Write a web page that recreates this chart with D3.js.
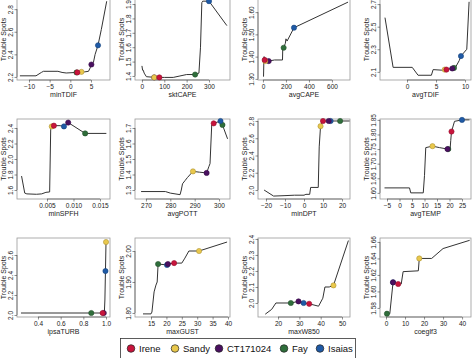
<!DOCTYPE html>
<html><head><meta charset="utf-8">
<script src="https://cdn.jsdelivr.net/npm/d3@7"></script>
<style>body{margin:0;background:#fff}svg{display:block;font-family:"Liberation Sans",Arial,Helvetica,sans-serif}</style>
</head><body><svg id="c" width="474" height="358"></svg>
<script>
// ---------------- data ----------------
const storms = ["Irene", "Sandy", "CT171024", "Fay", "Isaias"];
const stormColors = ["#c8143c", "#e9c84c", "#4a1060", "#2f6e3b", "#1f5aa6"];
const xNames = ["minTDIF", "sktCAPE", "avgCAPE", "avgTDIF",
                "minSPFH", "avgPOTT", "minDPT", "avgTEMP",
                "ipsaTURB", "maxGUST", "maxW850", "coeglf3"];
const yTitle = "Trouble Spots";
const xTicks = [[-10,-5,0,5],[0,100,200,300],[0,200,400,600],[0,5,10],
                [0.005,0.010,0.015],[270,280,290,300],[-20,-10,0,10,20],[-5,0,5,10,15,20,25],
                [0.4,0.6,0.8,1.0],[15,20,25,30,35,40],[20,30,40,50],[0,10,20,30,40]];
const xTickFmt = [".0f",".0f",".0f",".0f",".3f",".0f",".0f",".0f",".1f",".0f",".0f",".0f"];
const yTicks = [[2.2,2.4,2.6,2.8],[1.4,1.5,1.6,1.7,1.8,1.9],[1.3,1.4,1.5,1.6],[2.1,2.3,2.5,2.7],
                [1.6,1.8,2.0,2.2,2.4],[1.3,1.4,1.5,1.6,1.7],[2.0,2.2,2.4,2.6,2.8],[1.60,1.65,1.70,1.75,1.80,1.85],
                [2.0,2.2,2.4,2.6],[1.8,1.9,2.0],[2.0,2.1,2.2,2.3,2.4],[1.58,1.60,1.62,1.64,1.66]];
const yTickFmt = [".1f",".1f",".2f",".1f",".1f",".1f",".1f",".2f",".1f",".2f",".1f",".2f"];
const xLims = [[-12.9,9.6],[-31,394],[-43,757],[-4.66,11.03],
               [-0.00066,0.01689],[265.5,304.5],[-24.2,24.2],[-7.8,28.6],
               [0.215,1.035],[9.8,40.65],[10.6,53.75],[-3.16,44.7]];
const yLims = [[2.173,2.89],[1.372,1.935],[1.295,1.659],[2.028,2.745],
               [1.484,2.516],[1.242,1.758],[1.896,2.823],[1.579,1.853],
               [1.98,2.77],[1.787,2.042],[1.9125,2.406],[1.569,1.6648]];
const curveX = [
  [-12.2,-8.3,-7.0,-6.5,-3.0,-2.0,-1.0,1.5,3.5,4.4,4.8,5.1,5.6,6.0,6.7,7.5,8.8],
  [0,3,6,10,20,60,100,140,170,200,240,255,262,268,272,300,380],
  [5,8,10,15,20,50,100,170,172,180,195,200,210,260,270,740],
  [-3.8,-2.4,0.9,1.9,4.2,4.5,6.0,7.0,7.5,8.3,9.0,9.3,10.3,10.7],
  [0.0002,0.0008,0.0012,0.003,0.004,0.0048,0.0055,0.0057,0.0059,0.0063,0.0075,0.0082,0.009,0.0122,0.0162],
  [268,278,280,284,284.5,285,286,287,289.3,292,294.9,295.8,296.3,297,297.8,300.6,301.4,303.5],
  [-21,-16,-10,-5,0,1,3,3.5,7.5,8,8.7,9,10,14,19,24],
  [-6,4,4.5,9.5,10,10.5,13.2,16,19.2,20.2,20.5,20.8,22,25,28],
  [0.25,0.87,0.97,0.985,0.99,0.995,1.0],
  [12.4,15.0,15.3,16.0,16.6,17.0,17.3,20.2,20.5,22.5,25,26,27.3,30.6,39.7],
  [14,17,19,26,29.6,32,34.6,39,41,42,44,46,53],
  [0.5,2,3.7,6.4,8,9,17,17.5,24,30,44]
];
const curveY = [
  [2.21,2.21,2.24,2.25,2.25,2.24,2.235,2.24,2.245,2.25,2.28,2.31,2.33,2.40,2.48,2.62,2.87],
  [1.47,1.44,1.44,1.42,1.395,1.39,1.39,1.39,1.40,1.41,1.41,1.42,1.60,1.91,1.92,1.92,1.75],
  [1.31,1.38,1.40,1.385,1.38,1.38,1.385,1.385,1.43,1.44,1.46,1.48,1.47,1.52,1.53,1.645],
  [2.58,2.14,2.14,2.07,2.07,2.12,2.115,2.12,2.13,2.135,2.2,2.24,2.3,2.72],
  [1.78,1.56,1.55,1.545,1.55,1.57,1.575,2.38,2.42,2.43,2.43,2.42,2.47,2.33,2.33],
  [1.29,1.29,1.28,1.27,1.30,1.34,1.36,1.38,1.42,1.415,1.41,1.45,1.47,1.72,1.73,1.745,1.72,1.63],
  [2.0,1.93,1.935,1.94,1.94,1.95,1.95,2.03,2.03,2.5,2.74,2.76,2.8,2.8,2.8,2.8],
  [1.617,1.617,1.60,1.60,1.66,1.755,1.76,1.755,1.75,1.745,1.78,1.81,1.845,1.85,1.85],
  [2.02,2.02,2.02,2.02,2.15,2.44,2.73],
  [1.797,1.797,1.803,1.868,1.89,1.90,1.958,1.955,1.958,1.961,1.961,1.977,2.0,2.0,2.029],
  [1.93,1.96,2.0,2.0,2.01,2.0,1.995,1.98,2.03,2.1,2.1,2.11,2.39],
  [1.573,1.573,1.611,1.609,1.609,1.624,1.625,1.64,1.64,1.652,1.662]
];
// storm markers: order Irene, Sandy, CT171024, Fay, Isaias
const stormX = [
  [1.7,2.7,5.1,1.5,6.7],
  [78,55,55,238,300],
  [15,20,50,180,270],
  [6.8,6.5,7.8,8.1,9.3],
  [0.0063,0.0059,0.009,0.0122,0.0082],
  [297.8,289.3,294.9,301.4,300.6],
  [10,8.7,13,19,14],
  [20.8,13.2,19.2,19.5,25],
  [0.97,1.0,0.98,0.87,0.995],
  [22.5,30.6,20.5,17.3,20.2],
  [34.6,46,29.6,26,32],
  [6.4,17.5,3.7,0.5,3.7]
];
const stormY = [
  [2.24,2.245,2.31,2.24,2.48],
  [1.39,1.39,1.39,1.41,1.92],
  [1.385,1.38,1.38,1.44,1.53],
  [2.12,2.12,2.13,2.135,2.24],
  [2.43,2.42,2.47,2.33,2.42],
  [1.73,1.42,1.41,1.72,1.745],
  [2.8,2.74,2.8,2.8,2.8],
  [1.81,1.76,1.75,1.75,1.85],
  [2.02,2.73,2.02,2.02,2.44],
  [1.961,2.0,1.958,1.958,1.955],
  [1.995,2.11,2.01,2.0,2.0],
  [1.609,1.64,1.611,1.573,1.611]
];

// ---------------- layout ----------------
const colLeft = [17,135,258,380], colRight = [110,230,350,471];
const rowTop = [-1,119,238], rowBottom = [80,199,317];
const svg = d3.select("#c");
const boxColor = "#9a9a9a", axisColor = "#444", textColor = "#222";

for (let i = 0; i < 12; i++) {
  const r = Math.floor(i / 4), c = i % 4;
  const x = d3.scaleLinear().domain(xLims[i]).range([colLeft[c], colRight[c]]);
  const y = d3.scaleLinear().domain(yLims[i]).range([rowBottom[r], rowTop[r]]);
  const g = svg.append("g");
  g.append("rect").attr("x", colLeft[c]).attr("y", rowTop[r])
    .attr("width", colRight[c] - colLeft[c]).attr("height", rowBottom[r] - rowTop[r])
    .attr("fill", "none").attr("stroke", boxColor).attr("stroke-width", 0.8);
  const xa = g.append("g").attr("transform", `translate(0,${rowBottom[r]})`)
    .call(d3.axisBottom(x).tickValues(xTicks[i]).tickSize(2.5).tickPadding(1.5)
      .tickFormat(d3.format(xTickFmt[i])).tickSizeOuter(0));
  xa.select(".domain").attr("d", `M${x(xTicks[i][0])},0H${x(xTicks[i][xTicks[i].length-1])}`)
    .attr("stroke", axisColor).attr("stroke-width", 0.6);
  xa.selectAll(".tick line").attr("stroke", axisColor).attr("stroke-width", 0.6);
  xa.selectAll(".tick text").attr("font-size", 6.5).attr("fill", textColor)
    .attr("font-family", "Liberation Sans, Arial, sans-serif")
    .text(d => d < 0 ? "\u2212" + d3.format(xTickFmt[i])(-d) : d3.format(xTickFmt[i])(d));
  const ya = g.append("g").attr("transform", `translate(${colLeft[c]},0)`)
    .call(d3.axisLeft(y).tickValues(yTicks[i]).tickSize(2.5).tickPadding(0)
      .tickFormat(d3.format(yTickFmt[i])).tickSizeOuter(0));
  ya.select(".domain").attr("d", `M0,${y(yTicks[i][0])}V${y(yTicks[i][yTicks[i].length-1])}`)
    .attr("stroke", axisColor).attr("stroke-width", 0.6);
  ya.selectAll(".tick line").attr("stroke", axisColor).attr("stroke-width", 0.6);
  ya.selectAll(".tick text").attr("font-size", 6.5).attr("fill", textColor)
    .attr("font-family", "Liberation Sans, Arial, sans-serif")
    .attr("x", null).attr("dy", null)
    .attr("text-anchor", "middle")
    .attr("transform", "translate(-4.5,0) rotate(-90)");
  g.append("text").attr("x", (colLeft[c] + colRight[c]) / 2).attr("y", rowBottom[r] + 17)
    .attr("text-anchor", "middle").attr("font-size", 7).attr("fill", textColor).text(xNames[i]);
  g.append("text").attr("transform", `translate(${colLeft[c] - 11},${(rowTop[r] + rowBottom[r]) / 2}) rotate(-90)`)
    .attr("text-anchor", "middle").attr("font-size", 7).attr("fill", textColor).text(yTitle);
  const pts = curveX[i].map((v, k) => [v, curveY[i][k]]);
  g.append("path").datum(pts)
    .attr("d", d3.line().x(d => x(d[0])).y(d => y(d[1])))
    .attr("fill", "none").attr("stroke", "#333").attr("stroke-width", 1);
  const sp = storms.map((s, k) => ({k, vx: stormX[i][k], vy: stormY[i][k]}));
  g.selectAll("circle.s").data([3,4,2,1,0].map(k => sp[k])).join("circle")
    .attr("cx", d => x(d.vx)).attr("cy", d => y(d.vy)).attr("r", 2.6)
    .attr("fill", d => stormColors[d.k])
    .attr("stroke", d => d3.color(stormColors[d.k]).darker(0.8)).attr("stroke-width", 0.6);
}

// ---------------- legend ----------------
const legX = [131, 175, 219, 284, 320];
const lg = svg.append("g");
lg.append("rect").attr("x", 120.5).attr("y", 338.5).attr("width", 235).attr("height", 22)
  .attr("fill", "#fff").attr("stroke", "#333").attr("stroke-width", 0.8);
storms.forEach((s, k) => {
  lg.append("circle").attr("cx", legX[k]).attr("cy", 348.5).attr("r", 3.8)
    .attr("fill", stormColors[k]).attr("stroke", "#222").attr("stroke-width", 0.7);
  lg.append("text").attr("x", legX[k] + 8).attr("y", 352).attr("font-size", 9.5)
    .attr("fill", "#111").text(s);
});
</script></body></html>
